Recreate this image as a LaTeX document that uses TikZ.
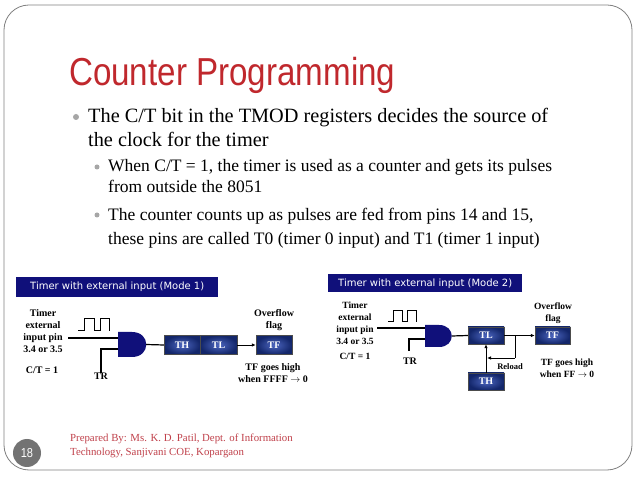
\documentclass[tikz,border=0pt]{standalone}
\usepackage{fontspec}
\setmainfont{Liberation Serif}
\newfontfamily\sans[FakeStretch=0.85]{Liberation Sans}
\newfontfamily\hdr{DejaVu Sans}
\usetikzlibrary{arrows.meta}
\definecolor{titlered}{HTML}{C0282D}
\definecolor{footred}{HTML}{C0404A}
\definecolor{navy}{HTML}{10107A}
\definecolor{regblue}{HTML}{1F3FB0}
\begin{document}
\begin{tikzpicture}[x=1pt,y=-1pt,
  lbl/.style={font=\bfseries\fontsize{10}{12}\selectfont,align=center,inner sep=0pt},
  reg/.style={draw=black!70,inner color=regblue!80,outer color=regblue!60!black,text=white,font=\bfseries\fontsize{10}{11}\selectfont,minimum height=19pt,inner sep=0pt},
  header/.style={fill=navy,text=white,font=\hdr\fontsize{10}{11}\selectfont,anchor=west,inner sep=2pt},
  wire/.style={line width=1.2pt},
  arr/.style={line width=0.8pt,-{Latex[length=4pt,width=3.5pt]}},
  body/.style={anchor=base west,inner sep=0pt}]
\useasboundingbox (0,0) rectangle (638,478);
\fill[white] (0,0) rectangle (638,478);
\draw[gray,line width=0.8pt,rounded corners=25pt] (4,5) rectangle (632,470);
% title
\node[body,text=titlered,font=\sans\fontsize{39}{42}\selectfont] (title) at (69,86) {Counter Programming};
% bullets
\tikzset{bul/.style={circle,fill=gray!70,inner sep=0pt,minimum size=6pt}}
\node[bul] (b1) at (76,117) {};
\node[body,font=\fontsize{20.3}{22}\selectfont] (t1) at (88,123) {The C/T bit in the TMOD registers decides the source of};
\node[body,font=\fontsize{20.3}{22}\selectfont] (t2) at (88,147) {the clock for the timer};
\node[bul,minimum size=5pt] (b2) at (97,167) {};
\node[body,font=\fontsize{17.5}{19}\selectfont] (t3) at (108,172) {When C/T = 1, the timer is used as a counter and gets its pulses};
\node[body,font=\fontsize{17.5}{19}\selectfont] (t4) at (108,193) {from outside the 8051};
\node[bul,minimum size=5pt] (b3) at (97,215) {};
\node[body,font=\fontsize{17.5}{19}\selectfont] (t5) at (108,221) {The counter counts up as pulses are fed from pins 14 and 15,};
\node[body,font=\fontsize{17.5}{19}\selectfont] (t6) at (108,245) {these pins are called T0 (timer 0 input) and T1 (timer 1 input)};
% ---------- Mode 1 ----------
\node[header,minimum width=202pt,minimum height=20pt] (h1) at (16,287) {Timer with external input (Mode 1)};
\node[lbl] (in1) at (43,331) {Timer\\external\\input pin\\3.4 or 3.5};
\node[lbl] (ct1) at (42,370) {C/T = 1};
\draw[line width=1pt] (78,331) -- (84,331) -- (84,319) -- (94,319) -- (94,331) -- (100,331) -- (100,319) -- (109,319) -- (109,331);
\fill[navy] (118,332) -- (132,332) .. controls (151,332) and (151,357) .. (132,357) -- (118,357) -- cycle;
\coordinate (g1) at (146,344.5);
\coordinate (g1a) at (118,338);
\coordinate (g1b) at (118,349);
\draw[wire] (68,338) -- (g1a);
\node[lbl] (tr1) at (101,376) {TR};
\draw[wire] (g1b) -- (101,349) -- (tr1.north);
\node[reg,minimum width=36pt] (th1) at (182,345) {TH};
\node[reg,minimum width=37pt] (tl1) at (218.5,345) {TL};
\node[reg,minimum width=36pt] (tf1) at (274,345) {TF};
\draw[wire] (g1) -- (th1.west);
\draw[arr] (tl1.east) -- (tf1.west);
\node[lbl] (of1) at (274,320) {Overflow\\flag};
\node[lbl] (fl1) at (273,373) {TF goes high\\when FFFF $\rightarrow$ 0};
% ---------- Mode 2 ----------
\node[header,minimum width=194pt,minimum height=18pt] (h2) at (328,283.5) {Timer with external input (Mode 2)};
\node[lbl,font=\bfseries\fontsize{9.5}{12}\selectfont] (in2) at (355,323) {Timer\\external\\input pin\\3.4 or 3.5};
\node[lbl,font=\bfseries\fontsize{9.5}{12}\selectfont] (ct2) at (355,356) {C/T = 1};
\draw[line width=1pt] (388,322) -- (393,322) -- (393,311) -- (402,311) -- (402,322) -- (407,322) -- (407,311) -- (416,311) -- (416,322);
\fill[navy] (425,325) -- (439,325) .. controls (456,325) and (456,347) .. (439,347) -- (425,347) -- cycle;
\coordinate (g2) at (452,336);
\coordinate (g2a) at (425,328);
\coordinate (g2b) at (425,339);
\draw[wire] (377,328) -- (g2a);
\node[lbl] (tr2) at (410,361) {TR};
\draw[wire] (g2b) -- (409,339) -- (409,351);
\node[reg,minimum width=36pt,minimum height=17pt] (tl2) at (486,335.5) {TL};
\node[reg,minimum width=35pt,minimum height=17pt] (tf2) at (552.5,335.5) {TF};
\node[reg,minimum width=36pt,minimum height=17pt] (th2) at (486,381.5) {TH};
\draw[wire] (g2) -- (tl2.west);
\coordinate (j) at (515,335.5);
\coordinate (jd) at (515,358);
\coordinate (jl) at (486,358);
\draw[arr] (tl2.east) -- (tf2.west);
\draw[line width=0.8pt] (j) -- (jd);
\draw[arr] (jd) -- ([xshift=1pt]jl);
\draw[arr] (th2.north) -- (tl2.south);
\node[lbl,font=\bfseries\fontsize{8.5}{9}\selectfont] (rl) at (510,367) {Reload};
\node[lbl,font=\bfseries\fontsize{9.5}{12}\selectfont] (of2) at (553,313) {Overflow\\flag};
\node[lbl,font=\bfseries\fontsize{9.5}{12}\selectfont] (fl2) at (567,368) {TF goes high\\when FF $\rightarrow$ 0};
% footer
\node[circle,fill=gray!90!black,text=white,minimum size=28pt,inner sep=0pt,font=\sans\fontsize{13}{14}\selectfont] (pg) at (27,453) {18};
\node[anchor=west,text=footred,font=\fontsize{10.8}{13.5}\selectfont,align=left,inner sep=0pt] (ft) at (70,446) {Prepared By: Ms. K. D. Patil, Dept. of Information\\Technology, Sanjivani COE, Kopargaon};
\end{tikzpicture}
\end{document}
